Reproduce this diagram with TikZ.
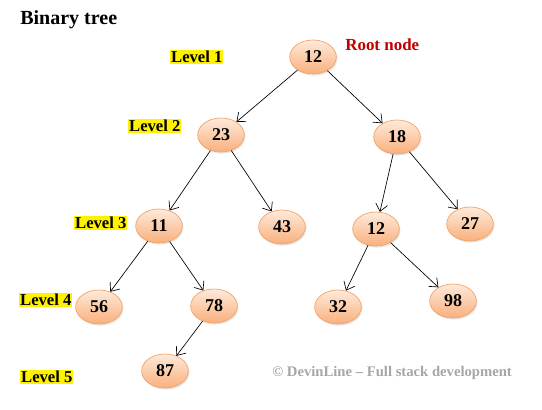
\documentclass[tikz,border=0pt]{standalone}
\usepackage{fontspec}
\setmainfont{Liberation Serif}
\usepackage{tikz}
\usetikzlibrary{arrows.meta,shapes.geometric,shadows}

\definecolor{nodetop}{HTML}{FEEADB}
\definecolor{nodebottom}{HTML}{F9B07C}
\definecolor{nodeline}{HTML}{F2A264}
\definecolor{rootred}{HTML}{C00000}
\definecolor{copygrey}{HTML}{A6A6A6}

\begin{document}
\begin{tikzpicture}[x=0.75pt,y=-0.75pt,->,>={Straight Barb[length=5.5pt,width=9pt]},
  line width=0.5pt,main node/.style={ellipse,draw=nodeline,top color=nodetop,bottom color=nodebottom,
        minimum width=35pt,minimum height=25.5pt,inner sep=0pt,
        drop shadow={shadow xshift=0.8pt,shadow yshift=-1.2pt,opacity=0.2},
        font=\fontsize{13.5}{15}\selectfont\bfseries},
        level node/.style={fill=yellow,inner sep=0.6pt,anchor=west,font=\fontsize{12.5}{14}\selectfont\bfseries},
        text node/.style={anchor=west,inner sep=0pt,font=\bfseries}]
  \useasboundingbox (0,0) rectangle (542,410);
  \node[text node,font=\fontsize{15}{17}\selectfont\bfseries] (title) at (20,20) {Binary tree};
  \node[text node,text=rootred,font=\fontsize{12.7}{14}\selectfont\bfseries] (root) at (345,45) {Root node};
  \node[level node] (l1) at (170,57) {Level 1};
  \node[level node] (l2) at (128,126) {Level 2};
  \node[level node] (l3) at (74,223) {Level 3};
  \node[level node] (l4) at (19,300) {Level 4};
  \node[level node] (l5) at (20,377) {Level 5};

  \node[main node] (1) at (313,57) {12};
  \node[main node] (2) at (221,135) {23};
  \node[main node] (3) at (397,137) {18};
  \node[main node] (4) at (159,226) {11};
  \node[main node] (5) at (282,227) {43};
  \node[main node] (6) at (376,229) {12};
  \node[main node] (7) at (470,224) {27};
  \node[main node] (8) at (99,307) {56};
  \node[main node] (9) at (214,306) {78};
  \node[main node] (10) at (338,307) {32};
  \node[main node] (11) at (453,301) {98};
  \node[main node] (12) at (165,371) {87};

  \node[text node,text=copygrey,font=\fontsize{11}{13}\selectfont\bfseries] (copy) at (272,373)
    {\textcopyright{} DevinLine -- Full stack development};

  \path
    (1) edge (2)
    (1) edge (3)
    (2) edge (4)
    (2) edge (5)
    (3) edge (6)
    (3) edge (7)
    (4) edge (8)
    (4) edge (9)
    (6) edge (10)
    (6) edge (11)
    (9) edge (12);
\end{tikzpicture}
\end{document}
